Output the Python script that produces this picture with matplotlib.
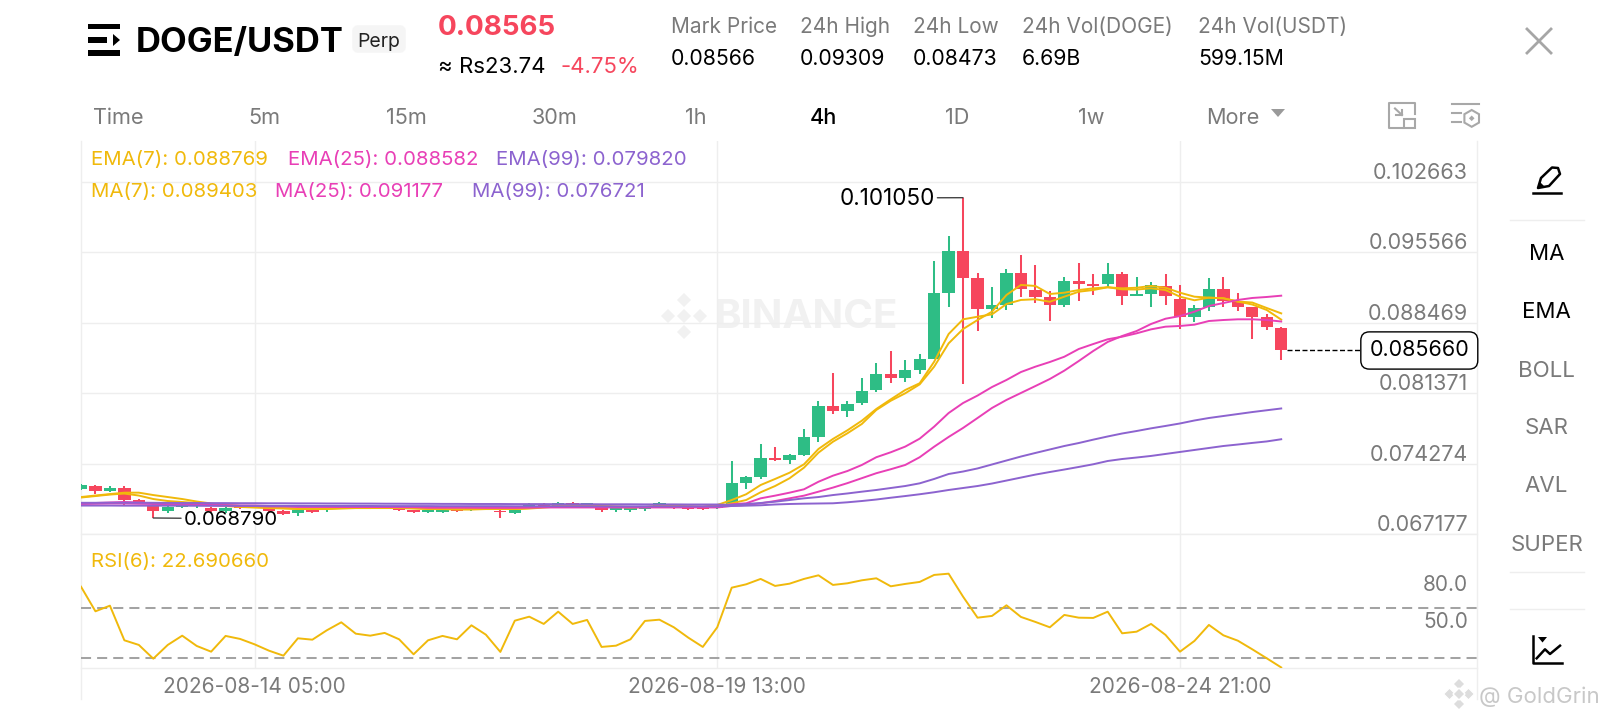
"""
DOGE/USDT perp, 4h candles with MA / EMA and RSI
"""
import numpy as np
import matplotlib
matplotlib.use('Agg')
import matplotlib.pyplot as plt
from matplotlib.patches import FancyBboxPatch, Polygon, Rectangle

plt.rcParams['font.family'] = ['Inter', 'DejaVu Sans']

W, H = 1612, 720

# prices in units of 0.00001
open_p = [7171, 7204, 7151, 7181, 7065, 7010, 6949, 6990, 6995, 6982, 6949, 6995, 6990, 6979,
          6949, 6926, 6979, 6969, 6990, 6979, 7000, 6995, 6979, 6959, 6936, 6944, 6959, 6964,
          6979, 6952, 6932, 6995, 7010, 6995, 7027, 6995, 6984, 6964, 6964, 6969, 6995, 7010,
          6990, 6984, 6979, 7010, 7234, 7295, 7483, 7463, 7513, 7698, 8004, 7957, 8037, 8165,
          8332, 8289, 8370, 8483, 9148, 9568, 9299, 8987, 9024, 9343, 9178, 9102, 9024, 9266,
          9236, 9233, 9336, 9115, 9132, 9213, 9082, 8900, 9007, 9182, 9067, 9007, 8900, 8796]
high_p = [7221, 7211, 7201, 7201, 7075, 7020, 7000, 7020, 7020, 6990, 6990, 7000, 7005, 6984,
          6964, 6964, 6984, 6979, 7000, 7000, 7005, 7000, 6990, 6964, 6964, 6969, 6964, 6990,
          7000, 6959, 6964, 7030, 7030, 7040, 7035, 7030, 6990, 6984, 6984, 6979, 7035, 7020,
          7000, 6990, 7005, 7453, 7305, 7621, 7591, 7527, 7775, 8054, 8342, 8054, 8289, 8440,
          8561, 8467, 8526, 9467, 9719, 10105, 9343, 9208, 9387, 9528, 9427, 9165, 9303, 9444,
          9333, 9444, 9353, 9303, 9259, 9333, 9226, 9021, 9296, 9303, 9148, 9007, 8934, 8806]
low_p = [7161, 7120, 7141, 7010, 7025, 6879, 6934, 6979, 6979, 6939, 6932, 6969, 6984, 6939,
         6909, 6899, 6934, 6939, 6969, 6969, 6979, 6969, 6949, 6929, 6929, 6933, 6939, 6949,
         6969, 6881, 6922, 6979, 6990, 6990, 6984, 6990, 6939, 6939, 6939, 6954, 6990, 6969,
         6964, 6959, 6969, 7000, 7171, 7272, 7453, 7423, 7503, 7641, 7926, 7893, 8014, 8151,
         8242, 8252, 8329, 8480, 9007, 8229, 8766, 8893, 8974, 9102, 9047, 8866, 9007, 9064,
         9125, 9208, 9024, 9115, 9007, 9024, 8786, 8853, 8967, 9007, 8967, 8685, 8772, 8473]
close_p = [7211, 7151, 7181, 7060, 7045, 6949, 6993, 7010, 7010, 6949, 6982, 6979, 7000, 6949,
           6924, 6959, 6942, 6979, 6979, 6995, 6990, 6979, 6959, 6939, 6959, 6959, 6946, 6979,
           6990, 6939, 6959, 7010, 7000, 7027, 6993, 7027, 6964, 6979, 6979, 6979, 7027, 6990,
           6974, 6969, 7000, 7228, 7289, 7486, 7463, 7513, 7695, 8004, 7957, 8030, 8161, 8332,
           8289, 8370, 8480, 9148, 9568, 9299, 8987, 9024, 9343, 9182, 9102, 9027, 9266, 9239,
           9219, 9336, 9115, 9132, 9226, 9115, 8900, 8997, 9182, 9067, 9007, 8906, 8800, 8566]

ema7 = [7085, 7100, 7115, 7125, 7105, 7070, 7050, 7040, 7030, 7010, 7000, 6990, 6984, 6979,
        6974, 6969, 6969, 6974, 6979, 6979, 6979, 6979, 6979, 6974, 6969, 6969, 6969, 6969,
        6974, 6974, 6969, 6979, 6990, 7000, 7000, 7000, 6995, 6990, 6984, 6990, 7000, 7000,
        6995, 6993, 7010, 7060, 7118, 7211, 7272, 7335, 7420, 7574, 7675, 7762, 7859, 7977,
        8074, 8168, 8236, 8453, 8732, 8880, 8906, 8930, 9034, 9075, 9082, 9057, 9108, 9158,
        9175, 9203, 9182, 9180, 9192, 9175, 9108, 9072, 9098, 9092, 9059, 9029, 8974, 8877]
ma7 = [7090, 7105, 7120, 7134, 7134, 7110, 7090, 7070, 7045, 7025, 7010, 7000, 6990, 6984,
       6979, 6974, 6969, 6969, 6974, 6979, 6979, 6984, 6984, 6979, 6974, 6969, 6964, 6964,
       6969, 6969, 6969, 6974, 6984, 6995, 7005, 7005, 7000, 6995, 6990, 6990, 6995, 7000,
       6995, 6990, 6995, 7027, 7060, 7138, 7201, 7279, 7386, 7537, 7647, 7732, 7826, 7967,
       8060, 8135, 8225, 8403, 8638, 8782, 8873, 8957, 9125, 9226, 9216, 9135, 9148, 9175,
       9192, 9203, 9192, 9198, 9216, 9198, 9148, 9108, 9098, 9092, 9059, 9049, 8994, 8940]
ema25 = [7025, 7030, 7035, 7040, 7035, 7025, 7020, 7015, 7010, 7005, 7005, 7000, 7000, 6995,
         6995, 6990, 6990, 6990, 6990, 6990, 6990, 6990, 6990, 6990, 6985, 6985, 6985, 6985,
         6985, 6985, 6985, 6985, 6990, 6990, 6990, 6990, 6990, 6990, 6990, 6990, 6990, 6990,
         6990, 6990, 6995, 7017, 7027, 7077, 7104, 7134, 7168, 7244, 7305, 7352, 7413, 7491,
         7541, 7598, 7678, 7799, 7936, 8037, 8112, 8198, 8269, 8349, 8403, 8450, 8503, 8581,
         8631, 8679, 8705, 8739, 8779, 8806, 8813, 8826, 8863, 8873, 8880, 8880, 8873, 8858]
ma25 = [7020, 7022, 7025, 7025, 7022, 7020, 7018, 7015, 7012, 7010, 7008, 7005, 7005, 7000,
        7000, 6998, 6995, 6995, 6992, 6992, 6990, 6990, 6988, 6988, 6985, 6985, 6985, 6985,
        6982, 6982, 6982, 6985, 6985, 6985, 6985, 6985, 6985, 6985, 6985, 6985, 6985, 6985,
        6985, 6985, 6985, 7000, 7010, 7027, 7050, 7077, 7104, 7144, 7185, 7230, 7280, 7330,
        7370, 7413, 7491, 7597, 7695, 7786, 7886, 7987, 8068, 8138, 8208, 8279, 8363, 8460,
        8561, 8652, 8712, 8762, 8833, 8886, 8913, 8957, 9014, 9044, 9075, 9095, 9105, 9118]
ema99 = [7032, 7032, 7033, 7033, 7033, 7032, 7031, 7030, 7030, 7029, 7029, 7028, 7028, 7027,
         7027, 7026, 7026, 7025, 7025, 7024, 7024, 7023, 7023, 7022, 7022, 7021, 7021, 7020,
         7020, 7020, 7019, 7019, 7019, 7018, 7018, 7018, 7017, 7017, 7017, 7016, 7016, 7016,
         7015, 7015, 7015, 7010, 7020, 7030, 7043, 7060, 7077, 7090, 7110, 7126, 7144, 7161,
         7181, 7201, 7228, 7272, 7322, 7347, 7378, 7418, 7458, 7498, 7534, 7569, 7604, 7634,
         7668, 7700, 7730, 7755, 7782, 7806, 7831, 7861, 7886, 7906, 7926, 7946, 7964, 7982]
ma99 = [7004, 7004, 7004, 7003, 7003, 7003, 7003, 7003, 7002, 7002, 7002, 7002, 7001, 7001,
        7001, 7001, 7000, 7000, 7000, 7000, 7000, 6999, 6999, 6999, 6999, 6998, 6998, 6998,
        6998, 6998, 6997, 6997, 6997, 6997, 6997, 6997, 6996, 6996, 6996, 6996, 6996, 6996,
        6996, 6996, 6996, 7000, 7003, 7007, 7015, 7020, 7023, 7025, 7027, 7037, 7050, 7065,
        7083, 7100, 7118, 7138, 7161, 7181, 7201, 7226, 7256, 7286, 7316, 7342, 7367, 7393,
        7420, 7453, 7473, 7488, 7504, 7524, 7544, 7564, 7584, 7604, 7619, 7635, 7650, 7672]

rsi6 = [87.3, 67.6, 72.1, 44.4, 40.7, 29.7, 40.7, 48.1, 39.9, 35.3, 47.9, 45.5, 41.2, 36.1,
        32.1, 46.0, 44.9, 52.4, 58.8, 49.7, 48.1, 50.3, 45.2, 33.2, 44.4, 47.9, 45.2, 56.4,
        48.9, 35.1, 60.1, 63.3, 57.5, 67.3, 57.5, 60.7, 39.1, 40.1, 45.2, 59.9, 60.9, 54.8,
        46.5, 39.1, 54.8, 86.5, 89.2, 93.5, 87.9, 89.7, 93.5, 96.4, 88.7, 90.0, 92.4, 94.0,
        87.6, 89.5, 91.1, 96.7, 97.7, 79.3, 62.5, 63.9, 72.4, 63.1, 59.1, 54.8, 64.7, 62.5,
        62.3, 67.3, 50.0, 51.3, 57.5, 48.7, 35.3, 43.9, 56.7, 48.4, 44.1, 37.2, 30.0, 22.69]

price_ticks = [0.102663, 0.095566, 0.088469, 0.081371, 0.074274, 0.067177]
rsi_ticks = [80.0, 50.0]
rsi_bands = [70, 30]
time_tick_idx = [12, 44, 76]
time_tick_labels = ['2026-08-14 05:00', '2026-08-19 13:00', '2026-08-24 21:00']
tabs = ['Time', '5m', '15m', '30m', '1h', '4h', '1D', '1w', 'More']
stats = [('Mark Price', '0.08566'), ('24h High', '0.09309'), ('24h Low', '0.08473'),
         ('24h Vol(DOGE)', '6.69B'), ('24h Vol(USDT)', '599.15M')]
side_items = ['MA', 'EMA', 'BOLL', 'SAR', 'AVL', 'SUPER']

GREEN = '#2ebd85'
RED = '#f6465d'
GOLD = '#f0b90b'
PINK = '#e83fb6'
PURPLE = '#8c63cf'
GRID = '#eeeeee'
GREY = '#7a7a7a'

o, h, l, c = [np.array(a) / 1e5 for a in (open_p, high_p, low_p, close_p)]
idx = np.arange(len(o))

fig = plt.figure(figsize=(W / 100, H / 100), dpi=100, facecolor='white')

# pixel canvas for the app chrome
bg = fig.add_axes([0, 0, 1, 1], zorder=0)
bg.set_xlim(0, W)
bg.set_ylim(H, 0)
bg.axis('off')


def chart_axes(x0, y0, x1, y1):
    ax = fig.add_axes([x0 / W, 1 - y1 / H, (x1 - x0) / W, (y1 - y0) / H], zorder=2)
    ax.patch.set_alpha(0)
    for s in ax.spines.values():
        s.set_visible(False)
    return ax


ax = chart_axes(80.7, 141, 1477, 534)
ax_rsi = chart_axes(80.7, 534, 1477, 668)

# frame
bg.plot([80.7, 80.7], [141, 699], color=GRID, lw=1)
bg.plot([1477, 1477], [141, 699], color=GRID, lw=1)
bg.plot([80.7, 1477], [534, 534], color=GRID, lw=1)
bg.plot([80.7, 1477], [668, 668], color=GRID, lw=1)

# watermark
bg.text(806, 318, 'BINANCE', fontsize=29, fontweight='bold', color='#f1f1f1', ha='center', va='center')
for cx, cy, r in [(684, 300, 8), (668, 316, 8), (700, 316, 8), (684, 332, 8), (684, 316, 8)]:
    bg.add_patch(Polygon([(cx, cy - r), (cx + r, cy), (cx, cy + r), (cx - r, cy)], closed=True,
                         fc='#f1f1f1', ec='white', lw=1))

# candles
ax.vlines(idx, l, h, colors=[GREEN if b >= a else RED for a, b in zip(o, c)], lw=1.45, zorder=3)
ax.bar(idx, np.abs(c - o), bottom=np.minimum(o, c), width=0.85,
       color=[GREEN if b >= a else RED for a, b in zip(o, c)], zorder=3)

for series, col in [(ema7, GOLD), (ma7, GOLD), (ema25, PINK), (ma25, PINK), (ma99, PURPLE), (ema99, PURPLE)]:
    ax.plot(idx, np.array(series) / 1e5, color=col, lw=1.4, zorder=4)

ax.set_xlim(-0.02, 96.54)
ax.set_ylim(0.067177, 0.10676)
ax.set_xticks(time_tick_idx)
ax.set_xticklabels([])
ax.set_yticks(price_ticks)
ax.set_yticklabels([])
ax.tick_params(length=0)
ax.grid(True, color=GRID, lw=1)
ax.set_axisbelow(True)

for t in price_ticks:
    ax.annotate(f'{t:.6f}', xy=(0.9935, t), xycoords=ax.get_yaxis_transform(), xytext=(0, 6.4),
                textcoords='offset points', ha='right', va='center', fontsize=15.5, color=GREY)

# high / low labels
ax.annotate(f'{high_p[61] / 1e5:.6f}', xy=(61, h[61]), xytext=(-20.5, -1), textcoords='offset points',
            ha='right', va='center', fontsize=16.2, color='black',
            arrowprops=dict(arrowstyle='-', color='#444444', lw=1, shrinkA=0, shrinkB=0, relpos=(1, 0.56)))
ax.annotate(f'{low_p[5] / 1e5:.6f}', xy=(5, l[5]), xytext=(22, -1.5), textcoords='offset points',
            ha='left', va='center', fontsize=14.7, color='black',
            arrowprops=dict(arrowstyle='-', color='#444444', lw=1, shrinkA=0, shrinkB=0, relpos=(0, 0.6)))

# last price
ax.plot([83.4, 88.6], [c[-1], c[-1]], color='black', lw=1, ls=(0, (3.6, 1.8)), zorder=4)
ax.text(92.55, c[-1], f'{close_p[-1] / 1e5:.6f}', fontsize=15.5, color='black', ha='center', va='center', zorder=6,
        bbox=dict(boxstyle='round,pad=0.4', fc='white', ec='black', lw=1))

# legends sit above the grid lines
for x, y, txt, col in [(91, 160, 'EMA(7): 0.088769', GOLD), (287.5, 160, 'EMA(25): 0.088582', PINK),
                       (496, 160, 'EMA(99): 0.079820', PURPLE), (91, 192, 'MA(7): 0.089403', GOLD),
                       (275, 192, 'MA(25): 0.091177', PINK), (471.5, 192, 'MA(99): 0.076721', PURPLE),
                       (91, 562, 'RSI(6): 22.690660', GOLD)]:
    fig.text(x / W, 1 - y / H, txt, color=col, fontsize=14.7, va='center')

# RSI
ax_rsi.plot(idx, rsi6, color=GOLD, lw=1.4, zorder=4)
for b in rsi_bands:
    ax_rsi.axhline(b, color='#a3a3a3', lw=1.45, ls=(0, (5, 3)), zorder=3)
ax_rsi.set_xlim(-0.02, 96.54)
ax_rsi.set_ylim(22.24, 129.44)
ax_rsi.set_xticks(time_tick_idx)
ax_rsi.set_xticklabels(time_tick_labels, fontsize=15, color=GREY)
ax_rsi.set_yticks([])
ax_rsi.tick_params(length=0, pad=6.2)
ax_rsi.grid(True, axis='x', color=GRID, lw=1)
ax_rsi.set_axisbelow(True)
for t in rsi_ticks:
    ax_rsi.annotate(f'{t:.1f}', xy=(0.9935, t), xycoords=ax_rsi.get_yaxis_transform(), xytext=(0, 7.8),
                    textcoords='offset points', ha='right', va='center', fontsize=15, color=GREY)

# header
bg.add_patch(Rectangle((88, 24), 32, 5.3, fc='black'))
bg.add_patch(Rectangle((88, 37), 19, 5.5, fc='black'))
bg.add_patch(Polygon([(113, 34), (120, 40), (113, 46)], closed=True, fc='black'))
bg.add_patch(Rectangle((88, 50), 32, 5.5, fc='black'))
bg.text(136, 43, 'DOGE/USDT', fontsize=24.9, fontweight='bold', color='black', va='center')
bg.add_patch(FancyBboxPatch((355, 28), 48, 22, boxstyle='round,pad=0,rounding_size=3', fc='#f5f5f5', ec='#f5f5f5', lw=4))
bg.text(379, 42, 'Perp', fontsize=14, color='#222222', ha='center', va='center')
bg.text(438, 28, '0.08565', fontsize=20, fontweight='bold', color=RED, va='center')
bg.text(438, 67, '≈ Rs23.74', fontsize=16, color='black', va='center')
bg.text(561, 67, '-4.75%', fontsize=16, color=RED, va='center')
for x, (name, val) in zip([671, 800, 913, 1022, 1198], stats):
    bg.text(x, 27, name, fontsize=15, color=GREY, va='center')
    bg.text(x, 59, val, fontsize=15.3, color='black', va='center')
bg.plot([1527, 1551], [29, 53], color='#a6a6a6', lw=2)
bg.plot([1527, 1551], [53, 29], color='#a6a6a6', lw=2)

# interval tabs
for x, name in zip([118, 264, 406, 555, 695.5, 823, 957, 1091, 1233], tabs):
    active = name == '4h'
    bg.text(x, 117.5, name, fontsize=15.6, ha='center', va='center', color='black' if active else GREY,
            fontweight='medium' if active else 'normal')
bg.add_patch(Polygon([(1271, 109), (1285, 109), (1278, 117)], closed=True, fc='#9a9a9a'))

# toolbar icons
ICON = '#a8a8a8'
bg.plot([1415, 1415, 1389, 1389, 1401.7], [114, 102.5, 102.5, 127.7, 127.7], color=ICON, lw=1.5)
bg.add_patch(Rectangle((1404, 118.5), 11, 9, fc='none', ec=ICON, lw=1.5))
bg.plot([1395, 1402], [108.5, 115], color=ICON, lw=1.5)
bg.plot([1396, 1402, 1402], [115, 115, 109.5], color=ICON, lw=1.5)
bg.plot([1452.3, 1479.3], [103.7, 103.7], color=ICON, lw=1.5)
bg.plot([1452.3, 1461], [112.7, 112.7], color=ICON, lw=1.5)
bg.plot([1452.3, 1461], [121.7, 121.7], color=ICON, lw=1.5)
bg.add_patch(Polygon([(1471.7, 110), (1479, 114.2), (1479, 122.6), (1471.7, 126.8), (1464.4, 122.6), (1464.4, 114.2)],
                     closed=True, fc='none', ec=ICON, lw=1.5))
bg.add_patch(Polygon([(1471.7, 115.5), (1474.5, 118.3), (1471.7, 121.1), (1468.9, 118.3)], closed=True, fc=ICON))

# side panel
bg.add_patch(Polygon([(1538, 188), (1541, 178), (1552, 167.5), (1558, 168), (1560, 174), (1549, 186)],
                     closed=True, fc='none', ec='black', lw=1.8, joinstyle='round'))
bg.add_patch(Polygon([(1538, 188), (1540, 182), (1544, 186)], closed=True, fc='black'))
bg.plot([1533, 1561], [192.5, 192.5], color='black', lw=1.8)
for y in [220, 571.7, 609.3]:
    bg.plot([1510, 1584], [y, y], color=GRID, lw=1)
for y, name in zip([254, 312, 371, 428, 486, 545], side_items):
    bg.text(1546.5, y, name, fontsize=16, ha='center', va='center',
            color='black' if name in ('MA', 'EMA') else GREY)
bg.plot([1533, 1533, 1561.7], [636, 663.3, 663.3], color='black', lw=1.8)
bg.add_patch(Polygon([(1538, 637), (1547, 637), (1542.5, 642.5)], closed=True, fc='black'))
bg.plot([1536.7, 1545, 1550, 1560], [658.3, 649.3, 654, 645.7], color='black', lw=1.8)

# corner credit
for cx, cy, r in [(1459, 684, 6), (1449.5, 694, 6), (1468.5, 694, 6), (1459, 704, 6), (1459, 694, 6)]:
    bg.add_patch(Polygon([(cx, cy - r), (cx + r, cy), (cx, cy + r), (cx - r, cy)], closed=True,
                         fc='#dddddd', ec='white', lw=1))
bg.text(1479, 697, '@ GoldGrin', fontsize=16, color='#c8c8c8', va='center')

fig.savefig('out.png', dpi=100)
